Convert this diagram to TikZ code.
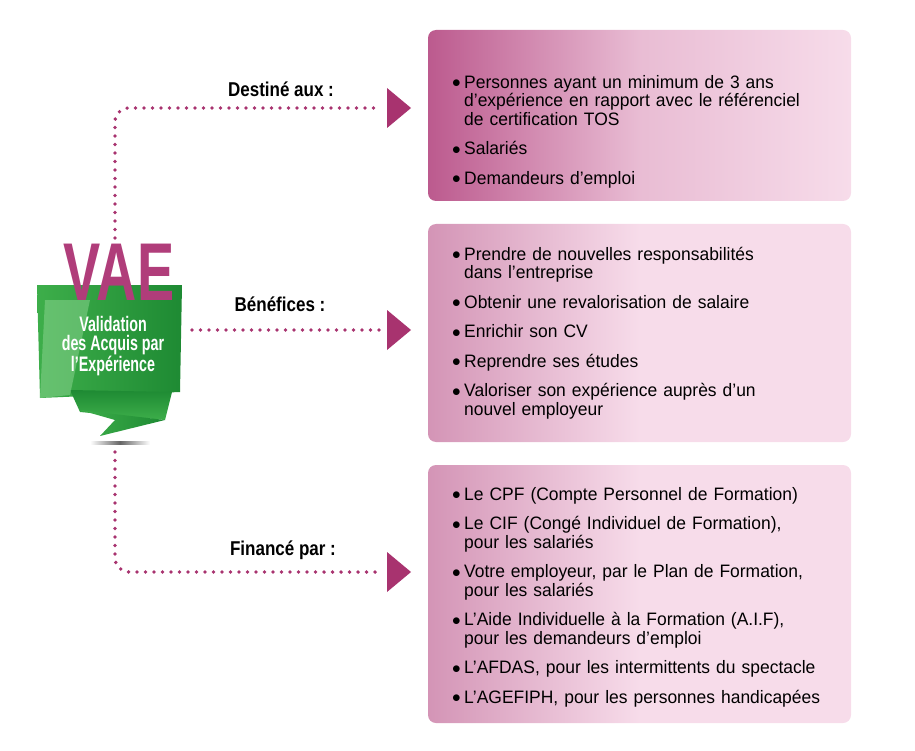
\documentclass[tikz,border=0pt]{standalone}
\usepackage{fontspec}
\setmainfont{Liberation Sans}[FakeStretch=0.97]
\newfontfamily\condb{Liberation Sans}[FakeStretch=0.68,BoldFont={* Bold}]
\newfontfamily\labf{Liberation Sans}[FakeStretch=0.85,BoldFont={* Bold}]
\usetikzlibrary{shadings}
\definecolor{mag}{HTML}{B03D7A}
\definecolor{magd}{HTML}{A8336F}
\definecolor{pinkl}{HTML}{F7DCEA}
\definecolor{gr}{HTML}{3DAE4A}
\definecolor{grd}{HTML}{1E8A33}
\definecolor{grl}{HTML}{8FD694}
\tikzset{
 box/.style={rounded corners=8pt,left color=mag!85,right color=pinkl,middle color=pinkl!80!mag},
 box2/.style={rounded corners=8pt,left color=mag!55,right color=pinkl,middle color=pinkl},
 dots/.style={magd,line width=3.8pt,dash pattern=on 0pt off 8.5pt,line cap=round},
 tri/.style={fill=magd,draw=none},
 lab/.style={font=\labf\bfseries\fontsize{20}{22}\selectfont,anchor=center},
 txt/.style={anchor=north west,align=left,font=\fontsize{18}{18.5}\selectfont,text width=400pt,inner sep=0pt}
}
\newcommand{\itm}[1]{\makebox[12pt][l]{\raisebox{0.5pt}{$\bullet$}}#1\par\vspace{11pt}}
\newcommand{\itmc}{\hspace*{12pt}}
\begin{document}
\begin{tikzpicture}[x=1pt,y=-1pt]
\useasboundingbox (0,0) rectangle (915,751);
% boxes
\path[box] (428,30) rectangle (851,201);
\path[box2] (428,224) rectangle (851,442);
\path[box2] (428,465) rectangle (851,723);
\node[txt] (t1) at (452,75) {\itm{Personnes ayant un minimum de 3 ans\\\itmc d’expérience en rapport avec le référenciel\\\itmc de certification TOS}\itm{Salariés}\itm{Demandeurs d’emploi}};
\node[txt] (t2) at (452,247) {\itm{Prendre de nouvelles responsabilités\\\itmc dans l’entreprise}\itm{Obtenir une revalorisation de salaire}\itm{Enrichir son CV}\itm{Reprendre ses études}\itm{Valoriser son expérience auprès d’un\\\itmc nouvel employeur}};
\node[txt] (t3) at (452,487) {\itm{Le CPF (Compte Personnel de Formation)}\itm{Le CIF (Congé Individuel de Formation),\\\itmc pour les salariés}\itm{Votre employeur, par le Plan de Formation,\\\itmc pour les salariés}\itm{L’Aide Individuelle à la Formation (A.I.F),\\\itmc pour les demandeurs d’emploi}\itm{L'AFDAS, pour les intermittents du spectacle}\itm{L'AGEFIPH, pour les personnes handicapées}};
% arrows
\path[tri] (387,88) -- (411,108) -- (387,128) -- cycle;
\path[tri] (387,310) -- (411,330) -- (387,350) -- cycle;
\path[tri] (387,552) -- (411,572) -- (387,592) -- cycle;
\coordinate (s1) at (115,238); \coordinate (s2) at (192,330); \coordinate (s3) at (115,452);
\coordinate (e1) at (381,108); \coordinate (e2) at (381,330); \coordinate (e3) at (381,572);
\draw[dots,rounded corners=14pt] (s1) |- (e1);
\draw[dots] (s2) -- (e2);
\draw[dots,rounded corners=14pt] (s3) |- (e3);
\node[lab] (l1) at (281,89) {Destiné aux :};
\node[lab] (l2) at (280,304) {Bénéfices :};
\node[lab] (l3) at (283,550) {Financé par :};
% logo
\shade[left color=gr,right color=grd] (37,285) -- (182,285) -- (180,392) -- (40,398) -- cycle;
\shade[top color=grd,bottom color=gr] (70,390) -- (172,392) -- (165,420) -- (80,412) -- cycle;
\shade[left color=gr,right color=grd] (80,410) -- (165,420) -- (100,436) -- (115,420) -- cycle;
\fill[grl,opacity=.5] (45,300) -- (90,300) -- (70,395) -- (40,398) -- cycle;
\shade[left color=white,right color=white,middle color=black!60] (90,441) rectangle (150,444);
\node[font=\condb\bfseries\fontsize{82}{82}\selectfont,text=mag,inner sep=0pt] (vae) at (119,272) {VAE};
\node[font=\condb\bfseries\fontsize{21}{19}\selectfont,text=white,align=center,inner sep=0pt] (vt) at (113,346) {Validation\\des Acquis par\\l’Expérience};
\end{tikzpicture}
\end{document}
